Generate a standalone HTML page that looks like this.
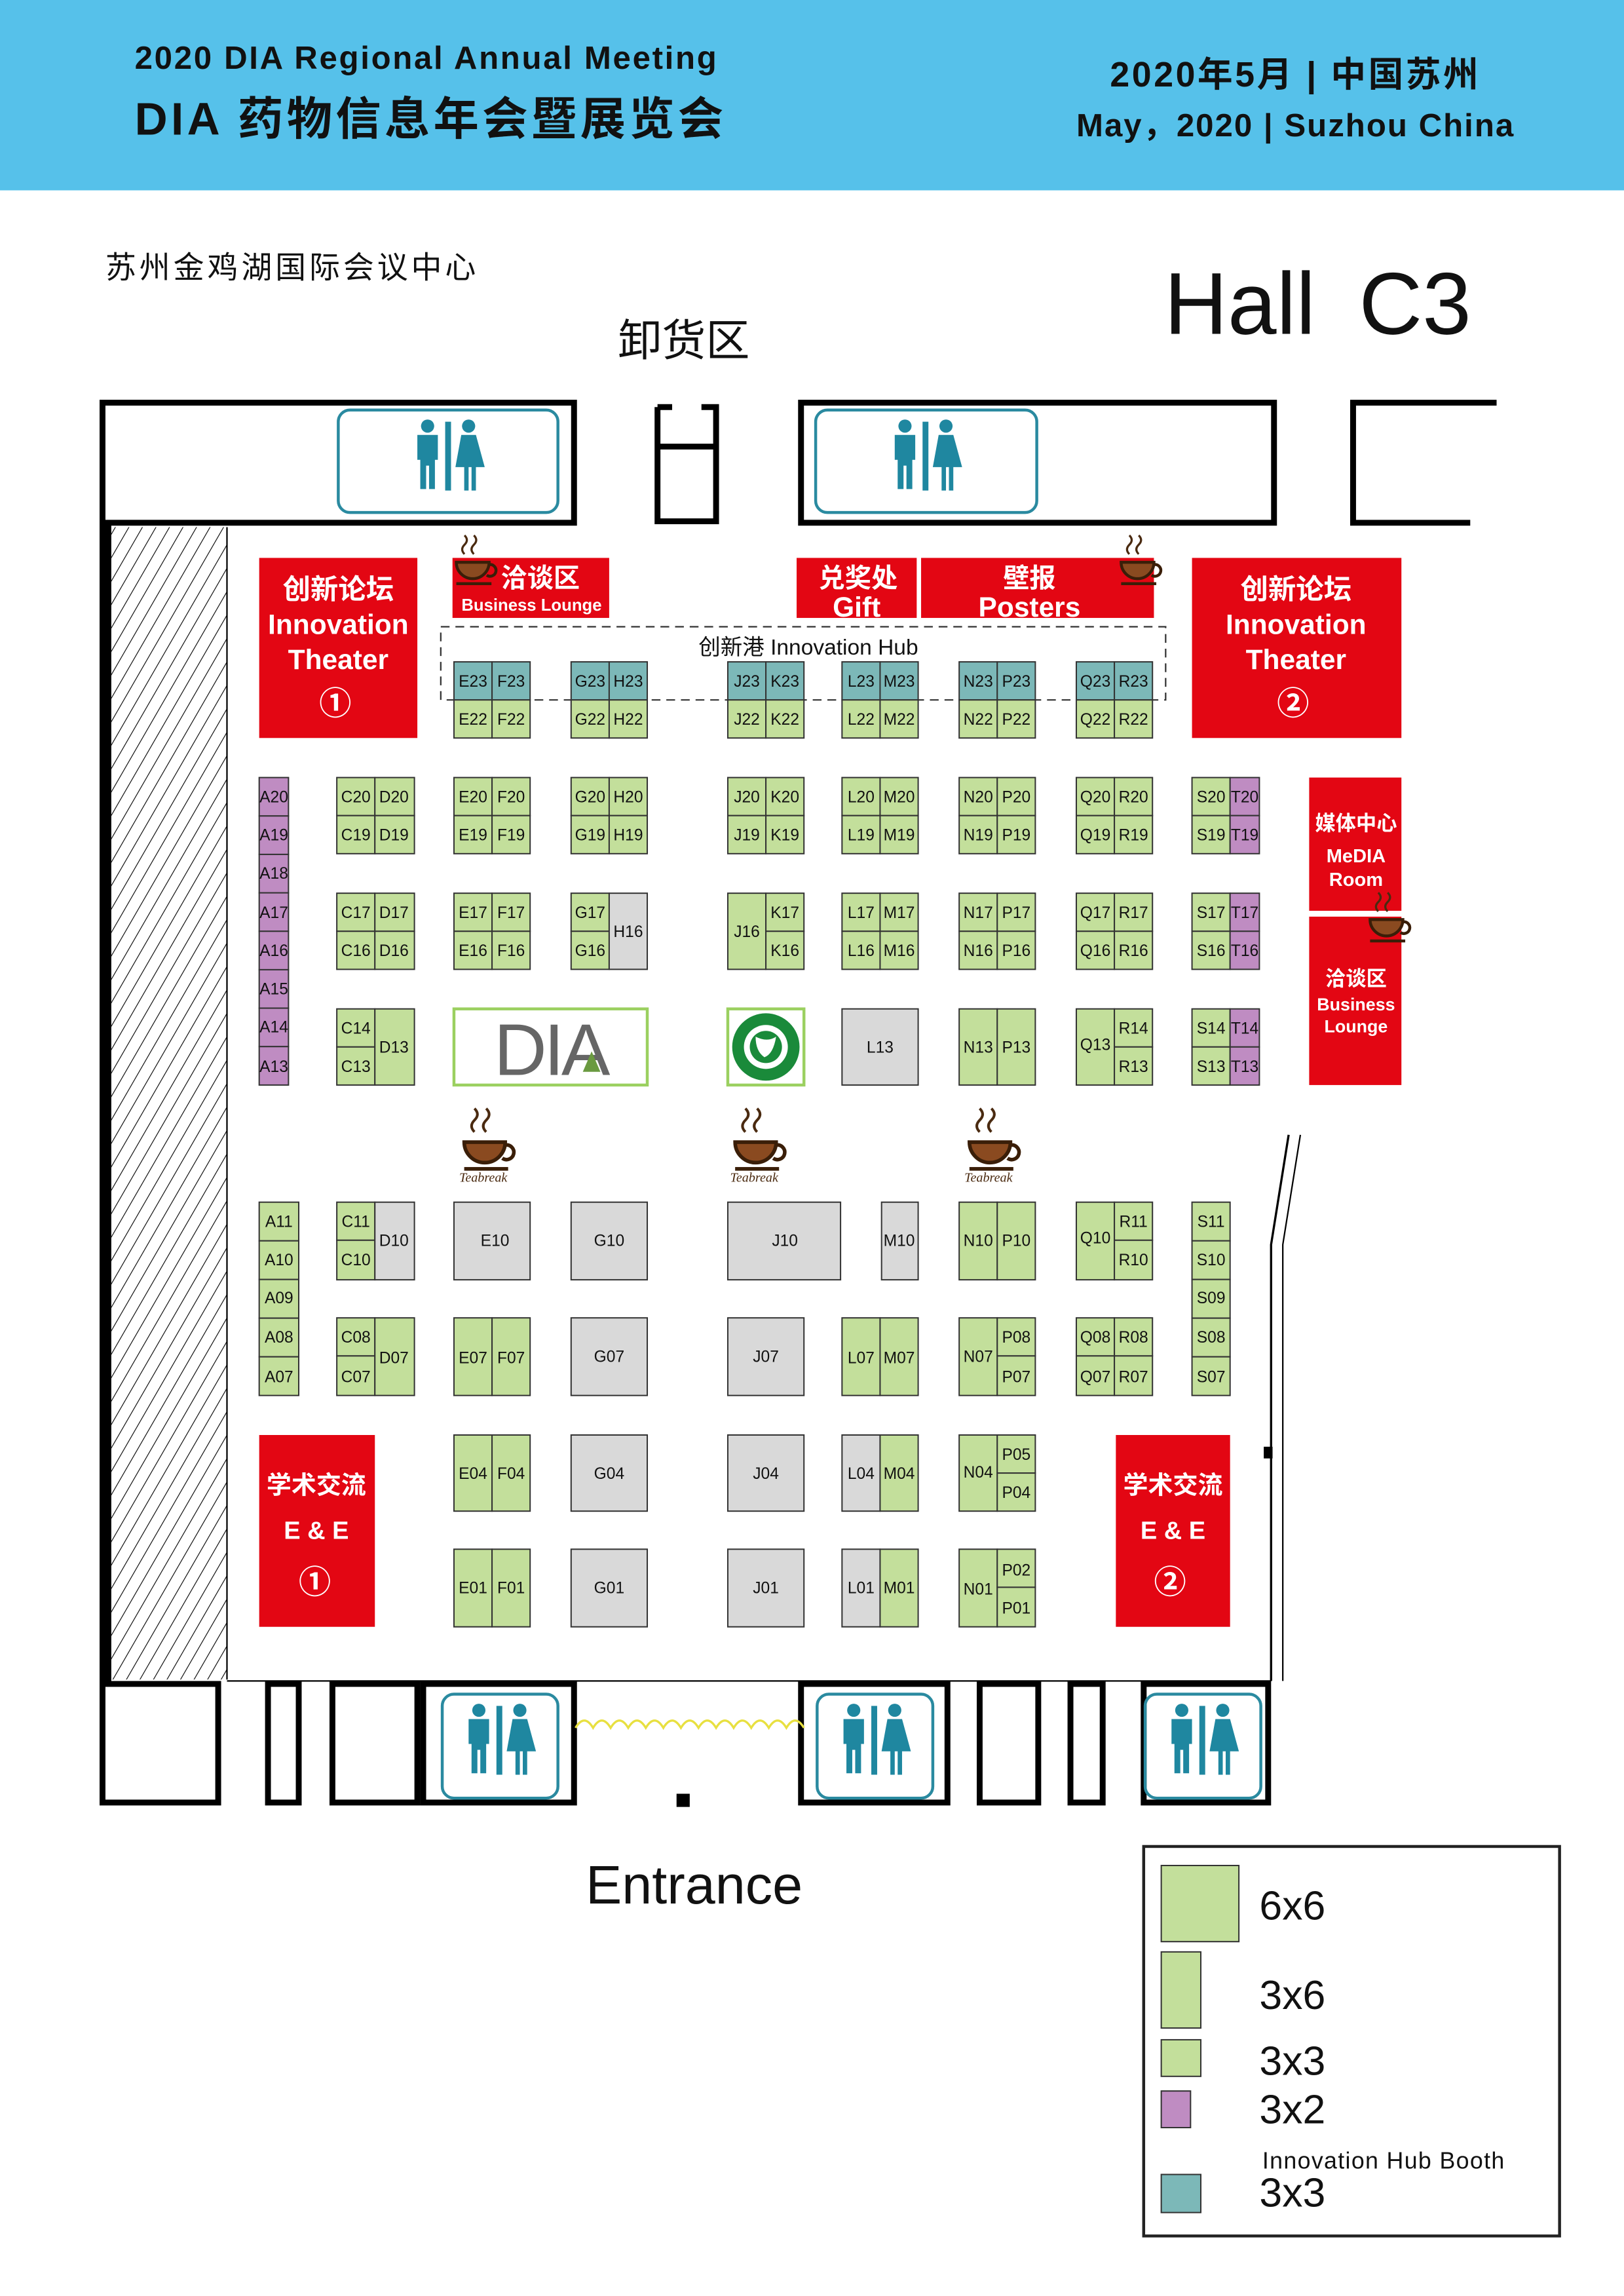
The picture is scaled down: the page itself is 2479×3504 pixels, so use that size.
<!DOCTYPE html>
<html><head><meta charset="utf-8"><style>
html,body{margin:0;padding:0;background:#fff}
svg{display:block}
text{font-family:"Liberation Sans","Noto Sans CJK SC",sans-serif}
.g{fill:#c3df9b;stroke:#333;stroke-width:.9}
.p{fill:#bf8cc2;stroke:#333;stroke-width:.9}
.y{fill:#d9d9d9;stroke:#333;stroke-width:.9}
.t{fill:#7cb8b8;stroke:#333;stroke-width:.9}
.l{font-family:"Liberation Sans Narrow","Liberation Sans",sans-serif;font-size:11px;text-anchor:middle;fill:#111}
.r{fill:#e30613}
.w{fill:#fff;text-anchor:middle;font-weight:bold}
.wall{fill:none;stroke:#000;stroke-width:4}
.toi{fill:none;stroke:#2a8aa0;stroke-width:2}
.tb{font-family:"Liberation Serif",serif;font-style:italic;font-size:9px;fill:#4a2a10;text-anchor:middle}
</style></head><body>
<svg width="2479" height="3504" viewBox="0 0 1109 1568" preserveAspectRatio="none" xmlns="http://www.w3.org/2000/svg">
<defs>
<pattern id="h" width="8" height="8" patternUnits="userSpaceOnUse" patternTransform="rotate(30)"><line x1="0" y1="0" x2="0" y2="8" stroke="#000" stroke-width="1"/></pattern>
<g id="cup"><path d="M-6,-22 q-4,-4 0,-8 q4,-4 0,-8 M2,-22 q-4,-4 0,-8 q4,-4 0,-8" stroke="#4a2a10" stroke-width="1.8" fill="none"/><path d="M-13,-15 h28 a14,14 0 0 1 -28,0z" fill="#8a4a20" stroke="#3a1e08" stroke-width="2.5"/><path d="M15,-13 a5,5 0 1 1 -2,9" fill="none" stroke="#3a1e08" stroke-width="2.5"/><rect x="-13" y="2" width="30" height="2.5" fill="#3a1e08"/></g>
<g id="wc"><circle cx="-14" cy="-24" r="4.5" fill="#1f87a0"/><path d="M-21,-18 h14 v17 h-2 v20 h-4 v-16 h-2 v16 h-4 v-20 h-2z" fill="#1f87a0"/><rect x="-2" y="-27" width="4" height="47" fill="#1f87a0"/><circle cx="14" cy="-24" r="4.5" fill="#1f87a0"/><path d="M9,-18 h10 l6,22 h-6 v16 h-3 v-16 h-2 v16 h-3 v-16 h-6z" fill="#1f87a0"/></g>
</defs>
<rect x="0" y="0" width="1109" height="130" fill="#56c1ea"/>
<text x="92" y="47" font-size="22" font-weight="bold" fill="#111" letter-spacing="1.2">2020 DIA Regional Annual Meeting</text>
<text x="92" y="92" font-size="31" font-weight="bold" fill="#111" letter-spacing="2.4">DIA 药物信息年会暨展览会</text>
<text x="758" y="59" font-size="24" font-weight="bold" fill="#111" letter-spacing="1.6">2020年5月 | 中国苏州</text>
<text x="735" y="93" font-size="22" font-weight="bold" fill="#111" letter-spacing="0.9">May，2020  | Suzhou China</text>
<text x="72" y="190" font-size="21" fill="#111" letter-spacing="2.2">苏州金鸡湖国际会议中心</text>
<text x="795" y="228" font-size="60" fill="#111">Hall</text>
<text x="928" y="228" font-size="60" fill="#111">C3</text>
<text x="422" y="243" font-size="30" fill="#111">卸货区</text>
<text x="400" y="1300" font-size="37" fill="#111">Entrance</text>

<!-- walls -->
<rect x="70" y="275" width="322" height="82" class="wall"/>
<path d="M449,278 v78 h40 v-78 h-10 M449,278 h10 M449,305 h40" class="wall" stroke-width="4"/>
<rect x="547" y="275" width="323" height="82" class="wall"/>
<path d="M1022,275 h-98 v82 h80" class="wall"/>
<rect x="68" y="357" width="8" height="792" fill="#000"/>
<rect x="76" y="360" width="79" height="787" fill="url(#h)"/>
<line x1="155" y1="360" x2="155" y2="1147" stroke="#000" stroke-width="1"/>
<path d="M868,1148 V850 l12,-75" stroke="#000" stroke-width="1.5" fill="none"/>
<path d="M876,1148 V850 l12,-75" stroke="#000" stroke-width="1" fill="none"/>
<rect x="863" y="988" width="6" height="8" fill="#000"/>
<line x1="155" y1="1148" x2="868" y2="1148" stroke="#000" stroke-width="1"/>
<rect x="70" y="1150" width="79" height="81" class="wall"/>
<rect x="183" y="1150" width="21" height="81" class="wall"/>
<rect x="227" y="1150" width="58" height="81" class="wall"/>
<rect x="289" y="1150" width="103" height="81" class="wall"/>
<rect x="547" y="1150" width="100" height="81" class="wall"/>
<rect x="669" y="1150" width="40" height="81" class="wall"/>
<rect x="731" y="1150" width="22" height="81" class="wall"/>
<rect x="781" y="1150" width="85" height="81" class="wall"/>
<rect x="462" y="1225" width="9" height="9" fill="#000"/>
<path d="M393,1180 q6,-10 12,0 q6,-10 12,0 q6,-10 12,0 q6,-10 12,0 q6,-10 12,0 q6,-10 12,0 q6,-10 12,0 q6,-10 12,0 q6,-10 12,0 q6,-10 12,0 q6,-10 12,0 q6,-10 12,0 q6,-10 12,0" stroke="#e8e040" stroke-width="1.5" fill="none"/>

<!-- toilets -->
<rect x="231" y="280" width="150" height="70" rx="8" class="toi"/><use href="#wc" x="306" y="315"/>
<rect x="557" y="280" width="151" height="70" rx="8" class="toi"/><use href="#wc" x="632" y="315"/>
<rect x="302" y="1157" width="79" height="71" rx="8" class="toi"/><use href="#wc" x="341" y="1192"/>
<rect x="558" y="1157" width="79" height="71" rx="8" class="toi"/><use href="#wc" x="597" y="1192"/>
<rect x="782" y="1157" width="79" height="71" rx="8" class="toi"/><use href="#wc" x="821" y="1192"/>

<!-- red areas -->
<rect x="177" y="381" width="108" height="123" class="r"/>
<text x="231" y="409" font-size="19" class="w" font-weight="normal">创新论坛</text>
<text x="231" y="433" font-size="19" class="w">Innovation</text>
<text x="231" y="457" font-size="19" class="w">Theater</text>
<text x="229" y="488" font-size="22" class="w" font-weight="normal">①</text>
<rect x="309" y="381" width="107" height="41" class="r"/>
<text x="369" y="401" font-size="18" class="w" font-weight="normal">洽谈区</text>
<text x="363" y="417" font-size="11.5" class="w">Business Lounge</text>
<rect x="544" y="381" width="82" height="41" class="r"/>
<text x="586" y="401" font-size="18" class="w" font-weight="normal">兑奖处</text>
<text x="585" y="421" font-size="19" class="w">Gift</text>
<rect x="629" y="381" width="159" height="41" class="r"/>
<text x="703" y="401" font-size="18" class="w" font-weight="normal">壁报</text>
<text x="703" y="421" font-size="19" class="w">Posters</text>
<rect x="814" y="381" width="143" height="123" class="r"/>
<text x="885" y="409" font-size="19" class="w" font-weight="normal">创新论坛</text>
<text x="885" y="433" font-size="19" class="w">Innovation</text>
<text x="885" y="457" font-size="19" class="w">Theater</text>
<text x="883" y="488" font-size="22" class="w" font-weight="normal">②</text>
<rect x="894" y="531" width="63" height="91" class="r"/>
<text x="926" y="567" font-size="14" class="w" font-weight="normal">媒体中心</text>
<text x="926" y="589" font-size="13" class="w">MeDIA</text>
<text x="926" y="605" font-size="13" class="w">Room</text>
<rect x="894" y="626" width="63" height="115" class="r"/>
<text x="926" y="673" font-size="14" class="w" font-weight="normal">洽谈区</text>
<text x="926" y="690" font-size="12" class="w">Business</text>
<text x="926" y="705" font-size="12" class="w">Lounge</text>
<rect x="177" y="980" width="79" height="131" class="r"/>
<text x="216" y="1020" font-size="17" class="w" font-weight="normal">学术交流</text>
<text x="216" y="1051" font-size="17" class="w">E &amp; E</text>
<text x="215" y="1088" font-size="22" class="w" font-weight="normal">①</text>
<rect x="762" y="980" width="78" height="131" class="r"/>
<text x="801" y="1020" font-size="17" class="w" font-weight="normal">学术交流</text>
<text x="801" y="1051" font-size="17" class="w">E &amp; E</text>
<text x="799" y="1088" font-size="22" class="w" font-weight="normal">②</text>

<!-- teabreaks -->
<use href="#cup" x="322" y="396" transform="translate(322,396) scale(0.8) translate(-322,-396)"/>
<use href="#cup" x="776" y="396" transform="translate(776,396) scale(0.8) translate(-776,-396)"/>
<use href="#cup" x="946" y="640" transform="translate(946,640) scale(0.8) translate(-946,-640)"/>
<use href="#cup" x="330" y="795"/><text x="330" y="807" class="tb">Teabreak</text>
<use href="#cup" x="515" y="795"/><text x="515" y="807" class="tb">Teabreak</text>
<use href="#cup" x="675" y="795"/><text x="675" y="807" class="tb">Teabreak</text>

<!-- innovation hub -->
<rect x="301" y="428" width="495" height="50" fill="none" stroke="#333" stroke-width="1" stroke-dasharray="6,4"/>
<text x="552" y="447" font-size="15" text-anchor="middle" fill="#111">创新港  Innovation Hub</text>
<g>
<rect x="310" y="452" width="26" height="26" class="t"/><text x="323" y="469" class="l">E23</text>
<rect x="336" y="452" width="26" height="26" class="t"/><text x="349" y="469" class="l">F23</text>
<rect x="390" y="452" width="26" height="26" class="t"/><text x="403" y="469" class="l">G23</text>
<rect x="416" y="452" width="26" height="26" class="t"/><text x="429" y="469" class="l">H23</text>
<rect x="497" y="452" width="26" height="26" class="t"/><text x="510" y="469" class="l">J23</text>
<rect x="523" y="452" width="26" height="26" class="t"/><text x="536" y="469" class="l">K23</text>
<rect x="575" y="452" width="26" height="26" class="t"/><text x="588" y="469" class="l">L23</text>
<rect x="601" y="452" width="26" height="26" class="t"/><text x="614" y="469" class="l">M23</text>
<rect x="655" y="452" width="26" height="26" class="t"/><text x="668" y="469" class="l">N23</text>
<rect x="681" y="452" width="26" height="26" class="t"/><text x="694" y="469" class="l">P23</text>
<rect x="735" y="452" width="26" height="26" class="t"/><text x="748" y="469" class="l">Q23</text>
<rect x="761" y="452" width="26" height="26" class="t"/><text x="774" y="469" class="l">R23</text>
<rect x="310" y="478" width="26" height="26" class="g"/><text x="323" y="495" class="l">E22</text>
<rect x="336" y="478" width="26" height="26" class="g"/><text x="349" y="495" class="l">F22</text>
<rect x="390" y="478" width="26" height="26" class="g"/><text x="403" y="495" class="l">G22</text>
<rect x="416" y="478" width="26" height="26" class="g"/><text x="429" y="495" class="l">H22</text>
<rect x="497" y="478" width="26" height="26" class="g"/><text x="510" y="495" class="l">J22</text>
<rect x="523" y="478" width="26" height="26" class="g"/><text x="536" y="495" class="l">K22</text>
<rect x="575" y="478" width="26" height="26" class="g"/><text x="588" y="495" class="l">L22</text>
<rect x="601" y="478" width="26" height="26" class="g"/><text x="614" y="495" class="l">M22</text>
<rect x="655" y="478" width="26" height="26" class="g"/><text x="668" y="495" class="l">N22</text>
<rect x="681" y="478" width="26" height="26" class="g"/><text x="694" y="495" class="l">P22</text>
<rect x="735" y="478" width="26" height="26" class="g"/><text x="748" y="495" class="l">Q22</text>
<rect x="761" y="478" width="26" height="26" class="g"/><text x="774" y="495" class="l">R22</text>
</g>

<!-- A column -->
<rect x="177" y="531" width="20" height="26.25" class="p"/><text x="187" y="548" class="l" font-size="10">A20</text>
<rect x="177" y="557.25" width="20" height="26.25" class="p"/><text x="187" y="574" class="l" font-size="10">A19</text>
<rect x="177" y="583.5" width="20" height="26.25" class="p"/><text x="187" y="600" class="l" font-size="10">A18</text>
<rect x="177" y="609.75" width="20" height="26.25" class="p"/><text x="187" y="627" class="l" font-size="10">A17</text>
<rect x="177" y="636" width="20" height="26.25" class="p"/><text x="187" y="653" class="l" font-size="10">A16</text>
<rect x="177" y="662.25" width="20" height="26.25" class="p"/><text x="187" y="679" class="l" font-size="10">A15</text>
<rect x="177" y="688.5" width="20" height="26.25" class="p"/><text x="187" y="705" class="l" font-size="10">A14</text>
<rect x="177" y="714.75" width="20" height="26.25" class="p"/><text x="187" y="732" class="l" font-size="10">A13</text>
<rect x="177" y="821" width="27" height="26.4" class="g"/><text x="190.5" y="838" class="l">A11</text>
<rect x="177" y="847.4" width="27" height="26.4" class="g"/><text x="190.5" y="864" class="l">A10</text>
<rect x="177" y="873.8" width="27" height="26.4" class="g"/><text x="190.5" y="890" class="l">A09</text>
<rect x="177" y="900.2" width="27" height="26.4" class="g"/><text x="190.5" y="917" class="l">A08</text>
<rect x="177" y="926.6" width="27" height="26.4" class="g"/><text x="190.5" y="944" class="l">A07</text>

<!-- rows 20/19 -->
<g>
<rect x="230" y="531" width="26" height="26" class="g"/><text x="243" y="548" class="l">C20</text>
<rect x="256" y="531" width="27" height="26" class="g"/><text x="269" y="548" class="l">D20</text>
<rect x="230" y="557" width="26" height="26" class="g"/><text x="243" y="574" class="l">C19</text>
<rect x="256" y="557" width="27" height="26" class="g"/><text x="269" y="574" class="l">D19</text>
<rect x="310" y="531" width="26" height="26" class="g"/><text x="323" y="548" class="l">E20</text>
<rect x="336" y="531" width="26" height="26" class="g"/><text x="349" y="548" class="l">F20</text>
<rect x="310" y="557" width="26" height="26" class="g"/><text x="323" y="574" class="l">E19</text>
<rect x="336" y="557" width="26" height="26" class="g"/><text x="349" y="574" class="l">F19</text>
<rect x="390" y="531" width="26" height="26" class="g"/><text x="403" y="548" class="l">G20</text>
<rect x="416" y="531" width="26" height="26" class="g"/><text x="429" y="548" class="l">H20</text>
<rect x="390" y="557" width="26" height="26" class="g"/><text x="403" y="574" class="l">G19</text>
<rect x="416" y="557" width="26" height="26" class="g"/><text x="429" y="574" class="l">H19</text>
<rect x="497" y="531" width="26" height="26" class="g"/><text x="510" y="548" class="l">J20</text>
<rect x="523" y="531" width="26" height="26" class="g"/><text x="536" y="548" class="l">K20</text>
<rect x="497" y="557" width="26" height="26" class="g"/><text x="510" y="574" class="l">J19</text>
<rect x="523" y="557" width="26" height="26" class="g"/><text x="536" y="574" class="l">K19</text>
<rect x="575" y="531" width="26" height="26" class="g"/><text x="588" y="548" class="l">L20</text>
<rect x="601" y="531" width="26" height="26" class="g"/><text x="614" y="548" class="l">M20</text>
<rect x="575" y="557" width="26" height="26" class="g"/><text x="588" y="574" class="l">L19</text>
<rect x="601" y="557" width="26" height="26" class="g"/><text x="614" y="574" class="l">M19</text>
<rect x="655" y="531" width="26" height="26" class="g"/><text x="668" y="548" class="l">N20</text>
<rect x="681" y="531" width="26" height="26" class="g"/><text x="694" y="548" class="l">P20</text>
<rect x="655" y="557" width="26" height="26" class="g"/><text x="668" y="574" class="l">N19</text>
<rect x="681" y="557" width="26" height="26" class="g"/><text x="694" y="574" class="l">P19</text>
<rect x="735" y="531" width="26" height="26" class="g"/><text x="748" y="548" class="l">Q20</text>
<rect x="761" y="531" width="26" height="26" class="g"/><text x="774" y="548" class="l">R20</text>
<rect x="735" y="557" width="26" height="26" class="g"/><text x="748" y="574" class="l">Q19</text>
<rect x="761" y="557" width="26" height="26" class="g"/><text x="774" y="574" class="l">R19</text>
<rect x="814" y="531" width="26" height="26" class="g"/><text x="827" y="548" class="l">S20</text>
<rect x="840" y="531" width="20" height="26" class="p"/><text x="850" y="548" class="l">T20</text>
<rect x="814" y="557" width="26" height="26" class="g"/><text x="827" y="574" class="l">S19</text>
<rect x="840" y="557" width="20" height="26" class="p"/><text x="850" y="574" class="l">T19</text>
</g>

<!-- rows 17/16 -->
<g>
<rect x="230" y="610" width="26" height="26" class="g"/><text x="243" y="627" class="l">C17</text>
<rect x="256" y="610" width="27" height="26" class="g"/><text x="269" y="627" class="l">D17</text>
<rect x="230" y="636" width="26" height="26" class="g"/><text x="243" y="653" class="l">C16</text>
<rect x="256" y="636" width="27" height="26" class="g"/><text x="269" y="653" class="l">D16</text>
<rect x="310" y="610" width="26" height="26" class="g"/><text x="323" y="627" class="l">E17</text>
<rect x="336" y="610" width="26" height="26" class="g"/><text x="349" y="627" class="l">F17</text>
<rect x="310" y="636" width="26" height="26" class="g"/><text x="323" y="653" class="l">E16</text>
<rect x="336" y="636" width="26" height="26" class="g"/><text x="349" y="653" class="l">F16</text>
<rect x="390" y="610" width="26" height="26" class="g"/><text x="403" y="627" class="l">G17</text>
<rect x="390" y="636" width="26" height="26" class="g"/><text x="403" y="653" class="l">G16</text>
<rect x="416" y="610" width="26" height="52" class="y"/><text x="429" y="640" class="l">H16</text>
<rect x="497" y="610" width="26" height="52" class="g"/><text x="510" y="640" class="l">J16</text>
<rect x="523" y="610" width="26" height="26" class="g"/><text x="536" y="627" class="l">K17</text>
<rect x="523" y="636" width="26" height="26" class="g"/><text x="536" y="653" class="l">K16</text>
<rect x="575" y="610" width="26" height="26" class="g"/><text x="588" y="627" class="l">L17</text>
<rect x="601" y="610" width="26" height="26" class="g"/><text x="614" y="627" class="l">M17</text>
<rect x="575" y="636" width="26" height="26" class="g"/><text x="588" y="653" class="l">L16</text>
<rect x="601" y="636" width="26" height="26" class="g"/><text x="614" y="653" class="l">M16</text>
<rect x="655" y="610" width="26" height="26" class="g"/><text x="668" y="627" class="l">N17</text>
<rect x="681" y="610" width="26" height="26" class="g"/><text x="694" y="627" class="l">P17</text>
<rect x="655" y="636" width="26" height="26" class="g"/><text x="668" y="653" class="l">N16</text>
<rect x="681" y="636" width="26" height="26" class="g"/><text x="694" y="653" class="l">P16</text>
<rect x="735" y="610" width="26" height="26" class="g"/><text x="748" y="627" class="l">Q17</text>
<rect x="761" y="610" width="26" height="26" class="g"/><text x="774" y="627" class="l">R17</text>
<rect x="735" y="636" width="26" height="26" class="g"/><text x="748" y="653" class="l">Q16</text>
<rect x="761" y="636" width="26" height="26" class="g"/><text x="774" y="653" class="l">R16</text>
<rect x="814" y="610" width="26" height="26" class="g"/><text x="827" y="627" class="l">S17</text>
<rect x="840" y="610" width="20" height="26" class="p"/><text x="850" y="627" class="l">T17</text>
<rect x="814" y="636" width="26" height="26" class="g"/><text x="827" y="653" class="l">S16</text>
<rect x="840" y="636" width="20" height="26" class="p"/><text x="850" y="653" class="l">T16</text>
</g>

<!-- rows 14/13 -->
<g>
<rect x="230" y="689" width="26" height="26" class="g"/><text x="243" y="706" class="l">C14</text>
<rect x="230" y="715" width="26" height="26" class="g"/><text x="243" y="732" class="l">C13</text>
<rect x="256" y="689" width="27" height="52" class="g"/><text x="269" y="719" class="l">D13</text>
<rect x="310" y="689" width="132" height="52" fill="#fff" stroke="#9bd060" stroke-width="2"/>
<text x="376" y="734" font-size="50" text-anchor="middle" fill="#666" letter-spacing="-2">DIA</text>
<path d="M398,732 l6,-14 l6,14z" fill="#6a9a40"/>
<rect x="497" y="689" width="52" height="52" fill="#fff" stroke="#9bd060" stroke-width="2"/>
<circle cx="523" cy="715" r="23" fill="#1a8a3a"/><circle cx="523" cy="715" r="15" fill="#fff"/><circle cx="523" cy="715" r="11" fill="#1a8a3a"/><path d="M516,708 q8,4 14,0 q-2,12 -8,14 q-6,-4 -6,-14z" fill="#fff"/>
<rect x="575" y="689" width="52" height="52" class="y"/><text x="601" y="719" class="l">L13</text>
<rect x="655" y="689" width="26" height="52" class="g"/><text x="668" y="719" class="l">N13</text>
<rect x="681" y="689" width="26" height="52" class="g"/><text x="694" y="719" class="l">P13</text>
<rect x="735" y="689" width="26" height="52" class="g"/><text x="748" y="717" class="l">Q13</text>
<rect x="761" y="689" width="26" height="26" class="g"/><text x="774" y="706" class="l">R14</text>
<rect x="761" y="715" width="26" height="26" class="g"/><text x="774" y="732" class="l">R13</text>
<rect x="814" y="689" width="26" height="26" class="g"/><text x="827" y="706" class="l">S14</text>
<rect x="840" y="689" width="20" height="26" class="p"/><text x="850" y="706" class="l">T14</text>
<rect x="814" y="715" width="26" height="26" class="g"/><text x="827" y="732" class="l">S13</text>
<rect x="840" y="715" width="20" height="26" class="p"/><text x="850" y="732" class="l">T13</text>
</g>

<!-- rows 11/10 -->
<g>
<rect x="230" y="821" width="26" height="26" class="g"/><text x="243" y="838" class="l">C11</text>
<rect x="230" y="847" width="26" height="27" class="g"/><text x="243" y="864" class="l">C10</text>
<rect x="256" y="821" width="27" height="53" class="y"/><text x="269" y="851" class="l">D10</text>
<rect x="310" y="821" width="52" height="53" class="y"/><text x="338" y="851" class="l">E10</text>
<rect x="390" y="821" width="52" height="53" class="y"/><text x="416" y="851" class="l">G10</text>
<rect x="497" y="821" width="77" height="53" class="y"/><text x="536" y="851" class="l">J10</text>
<rect x="602" y="821" width="25" height="53" class="y"/><text x="614" y="851" class="l">M10</text>
<rect x="655" y="821" width="26" height="53" class="g"/><text x="668" y="851" class="l">N10</text>
<rect x="681" y="821" width="26" height="53" class="g"/><text x="694" y="851" class="l">P10</text>
<rect x="735" y="821" width="26" height="53" class="g"/><text x="748" y="849" class="l">Q10</text>
<rect x="761" y="821" width="26" height="26" class="g"/><text x="774" y="838" class="l">R11</text>
<rect x="761" y="847" width="26" height="27" class="g"/><text x="774" y="864" class="l">R10</text>
<rect x="814" y="821" width="26" height="26.4" class="g"/><text x="827" y="838" class="l">S11</text>
<rect x="814" y="847.4" width="26" height="26.4" class="g"/><text x="827" y="864" class="l">S10</text>
<rect x="814" y="873.8" width="26" height="26.4" class="g"/><text x="827" y="890" class="l">S09</text>
<rect x="814" y="900.2" width="26" height="26.4" class="g"/><text x="827" y="917" class="l">S08</text>
<rect x="814" y="926.6" width="26" height="26.4" class="g"/><text x="827" y="944" class="l">S07</text>
</g>

<!-- rows 08/07 -->
<g>
<rect x="230" y="900" width="26" height="26" class="g"/><text x="243" y="917" class="l">C08</text>
<rect x="230" y="926" width="26" height="27" class="g"/><text x="243" y="944" class="l">C07</text>
<rect x="256" y="900" width="27" height="53" class="g"/><text x="269" y="931" class="l">D07</text>
<rect x="310" y="900" width="26" height="53" class="g"/><text x="323" y="931" class="l">E07</text>
<rect x="336" y="900" width="26" height="53" class="g"/><text x="349" y="931" class="l">F07</text>
<rect x="390" y="900" width="52" height="53" class="y"/><text x="416" y="930" class="l">G07</text>
<rect x="497" y="900" width="52" height="53" class="y"/><text x="523" y="930" class="l">J07</text>
<rect x="575" y="900" width="26" height="53" class="g"/><text x="588" y="931" class="l">L07</text>
<rect x="601" y="900" width="26" height="53" class="g"/><text x="614" y="931" class="l">M07</text>
<rect x="655" y="900" width="26" height="53" class="g"/><text x="668" y="930" class="l">N07</text>
<rect x="681" y="900" width="26" height="26" class="g"/><text x="694" y="917" class="l">P08</text>
<rect x="681" y="926" width="26" height="27" class="g"/><text x="694" y="944" class="l">P07</text>
<rect x="735" y="900" width="26" height="26" class="g"/><text x="748" y="917" class="l">Q08</text>
<rect x="761" y="900" width="26" height="26" class="g"/><text x="774" y="917" class="l">R08</text>
<rect x="735" y="926" width="26" height="27" class="g"/><text x="748" y="944" class="l">Q07</text>
<rect x="761" y="926" width="26" height="27" class="g"/><text x="774" y="944" class="l">R07</text>
</g>

<!-- rows 05/04 -->
<g>
<rect x="310" y="980" width="26" height="52" class="g"/><text x="323" y="1010" class="l">E04</text>
<rect x="336" y="980" width="26" height="52" class="g"/><text x="349" y="1010" class="l">F04</text>
<rect x="390" y="980" width="52" height="52" class="y"/><text x="416" y="1010" class="l">G04</text>
<rect x="497" y="980" width="52" height="52" class="y"/><text x="523" y="1010" class="l">J04</text>
<rect x="575" y="980" width="26" height="52" class="y"/><text x="588" y="1010" class="l">L04</text>
<rect x="601" y="980" width="26" height="52" class="g"/><text x="614" y="1010" class="l">M04</text>
<rect x="655" y="980" width="26" height="52" class="g"/><text x="668" y="1009" class="l">N04</text>
<rect x="681" y="980" width="26" height="26" class="g"/><text x="694" y="997" class="l">P05</text>
<rect x="681" y="1006" width="26" height="26" class="g"/><text x="694" y="1023" class="l">P04</text>
</g>

<!-- rows 02/01 -->
<g>
<rect x="310" y="1058" width="26" height="53" class="g"/><text x="323" y="1088" class="l">E01</text>
<rect x="336" y="1058" width="26" height="53" class="g"/><text x="349" y="1088" class="l">F01</text>
<rect x="390" y="1058" width="52" height="53" class="y"/><text x="416" y="1088" class="l">G01</text>
<rect x="497" y="1058" width="52" height="53" class="y"/><text x="523" y="1088" class="l">J01</text>
<rect x="575" y="1058" width="26" height="53" class="y"/><text x="588" y="1088" class="l">L01</text>
<rect x="601" y="1058" width="26" height="53" class="g"/><text x="614" y="1088" class="l">M01</text>
<rect x="655" y="1058" width="26" height="53" class="g"/><text x="668" y="1089" class="l">N01</text>
<rect x="681" y="1058" width="26" height="26" class="g"/><text x="694" y="1076" class="l">P02</text>
<rect x="681" y="1084" width="26" height="27" class="g"/><text x="694" y="1102" class="l">P01</text>
</g>

<!-- legend -->
<rect x="781" y="1261" width="284" height="266" fill="none" stroke="#222" stroke-width="2"/>
<rect x="793" y="1274" width="53" height="52" class="g"/><text x="860" y="1311" font-size="28" fill="#111">6x6</text>
<rect x="793" y="1333" width="27" height="52" class="g"/><text x="860" y="1372" font-size="28" fill="#111">3x6</text>
<rect x="793" y="1393" width="27" height="25" class="g"/><text x="860" y="1417" font-size="28" fill="#111">3x3</text>
<rect x="793" y="1428" width="20" height="25" class="p"/><text x="860" y="1450" font-size="28" fill="#111">3x2</text>
<text x="862" y="1481" font-size="16" fill="#111" letter-spacing="0.6">Innovation Hub Booth</text>
<rect x="793" y="1485" width="27" height="26" class="t"/><text x="860" y="1507" font-size="28" fill="#111">3x3</text>
</svg>
</body></html>
